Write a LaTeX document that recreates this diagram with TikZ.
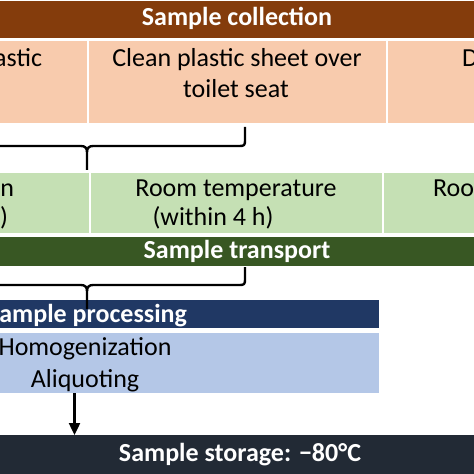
\documentclass[tikz,border=0pt]{standalone}
\usepackage{fontspec}
\setmainfont{Carlito}
\usetikzlibrary{arrows.meta}
\definecolor{brownbar}{HTML}{843C0C}
\definecolor{salmon}{HTML}{F8CBAD}
\definecolor{lgreen}{HTML}{C5E0B4}
\definecolor{dgreen}{HTML}{385723}
\definecolor{dblue}{HTML}{203864}
\definecolor{lblue}{HTML}{B4C7E7}
\definecolor{storebar}{HTML}{222A35}
\begin{document}
\begin{tikzpicture}[x=1bp,y=-1bp,
  box/.style={rectangle, draw=none, inner sep=0pt, outer sep=0pt, anchor=north west},
  txt/.style={inner sep=0pt, outer sep=0pt, anchor=base, text=black, font=\fontsize{26bp}{31bp}\selectfont},
  btxt/.style={txt, text=white, font=\fontsize{26bp}{31bp}\selectfont\bfseries},
  sep/.style={draw=white, line width=2bp},
  brace/.style={draw=black, line width=2.4bp, line join=round},
  arr/.style={draw=black, line width=2.4bp, -{Triangle[width=11bp,length=12bp]}}]
\useasboundingbox (0,0) rectangle (474,474);
\clip (0,0) rectangle (474,474);
\fill[white] (0,0) rectangle (474,474);
% boxes
\node[box, fill=brownbar, minimum width=494bp, minimum height=37bp] (coll) at (-10,1) {};
\node[box, fill=salmon, minimum width=494bp, minimum height=82bp] (collrow) at (-10,41) {};
\node[box, fill=lgreen, minimum width=494bp, minimum height=60bp] (tranrow) at (-10,173) {};
\node[box, fill=dgreen, minimum width=494bp, minimum height=29bp] (tran) at (-10,237) {};
\node[box, fill=dblue, minimum width=589bp, minimum height=28bp] (proc) at (-210,300) {};
\node[box, fill=lblue, minimum width=589bp, minimum height=60bp] (procrow) at (-210,333) {};
\node[box, fill=storebar, minimum width=494bp, minimum height=49bp] (stor) at (-10,435) {};
% cell separators
\draw[sep] (88,41) -- (88,123);
\draw[sep] (387,41) -- (387,123);
\draw[sep] (90,173) -- (90,233);
\draw[sep] (383,173) -- (383,233);
% texts
\node[btxt] (tcoll) at (237,26) {Sample collection};
\node[txt, anchor=base east] (tc1) at (42,67) {astic};
\node[txt] (tc2a) at (237,67) {Clean plastic sheet over};
\node[txt] (tc2b) at (236,98) {toilet seat};
\node[txt, anchor=base west] (tc3) at (462,67) {D};
\node[txt, anchor=base east] (tt1a) at (14,197) {n};
\node[txt, anchor=base east] (tt1b) at (8,226) {)};
\node[txt] (tt2a) at (236,197) {Room temperature};
\node[txt] (tt2b) at (213,226) {(within 4 h)};
\node[txt, anchor=base west] (tt3) at (433,197) {Roo};
\node[btxt] (ttran) at (237,258) {Sample transport};
\node[btxt] (tproc) at (87,322) {Sample processing};
\node[txt] (tp1) at (85,355) {Homogenization};
\node[txt] (tp2) at (85,387) {Aliquoting};
\node[btxt] (tstor) at (240,461) {Sample storage: −80°C};
% braces
\coordinate (b1tip) at (87,170);
\coordinate (b1r) at (245,127);
\coordinate (b1l) at (-20,127);
\draw[brace] (b1tip) -- (87,152) .. controls (87,148) and (85,146) .. (81,146) -- (-15,146) -- (b1l);
\draw[brace] (87,152) .. controls (87,148) and (89,146) .. (93,146) -- (240,146) .. controls (244,146) and (245,145) .. (245,141) -- (b1r);
\coordinate (b2tip) at (87,309);
\coordinate (b2r) at (245,267);
\coordinate (b2l) at (-20,267);
\draw[brace] (b2tip) -- (87,291) .. controls (87,287) and (85,285) .. (81,285) -- (-15,285) -- (b2l);
\draw[brace] (87,291) .. controls (87,287) and (89,285) .. (93,285) -- (240,285) .. controls (244,285) and (245,284) .. (245,280) -- (b2r);
% arrow
\coordinate (ax) at (74.5,0);
\draw[arr] (procrow.south -| ax) -- (stor.north -| ax);
\end{tikzpicture}
\end{document}
